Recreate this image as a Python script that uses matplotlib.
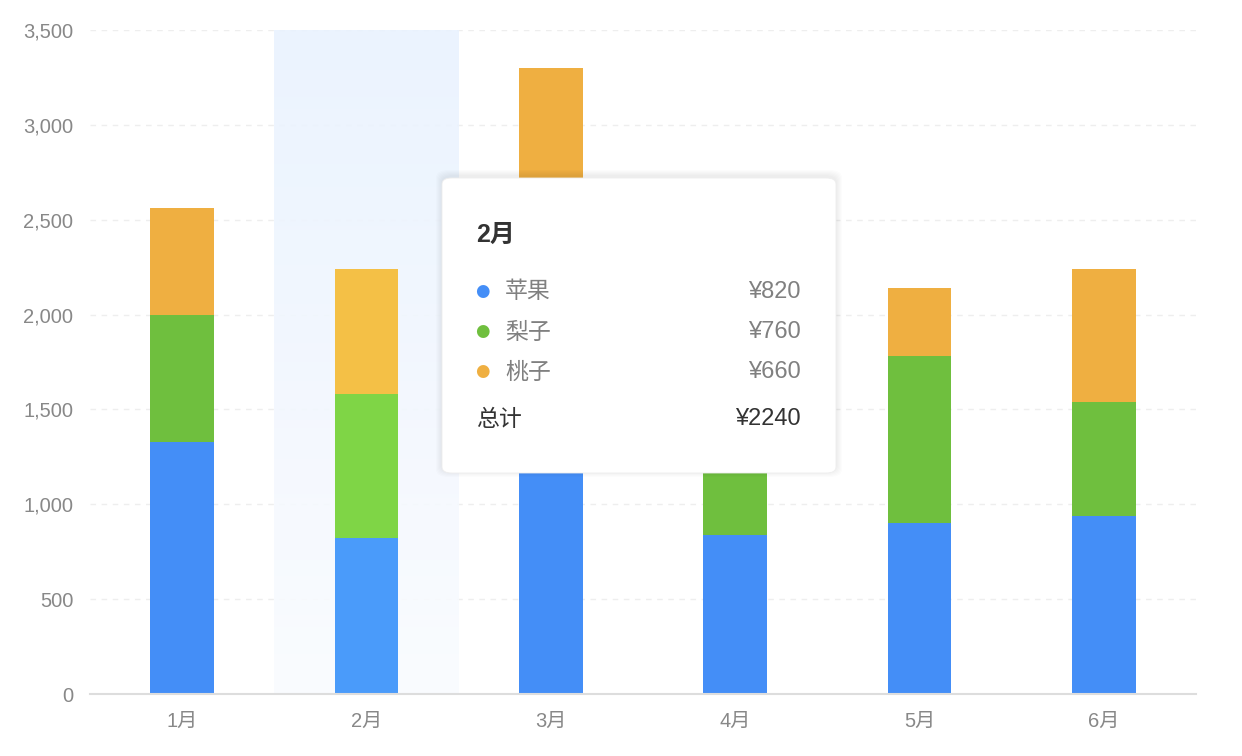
import numpy as np
import matplotlib.pyplot as plt
from matplotlib.patches import FancyBboxPatch
from matplotlib.colors import to_rgb

plt.rcParams['font.family'] = ['Liberation Sans', 'Noto Sans CJK SC', 'DejaVu Sans']

months = ['1月', '2月', '3月', '4月', '5月', '6月']
apple = [1330, 820, 1500, 840, 900, 940]
pear = [670, 760, 1000, 760, 880, 600]
peach = [560, 660, 800, 500, 360, 700]
series_names = ['苹果', '梨子', '桃子']
yticks = [0, 500, 1000, 1500, 2000, 2500, 3000, 3500]

active = 1  # 2月 is hovered
base_colors = ['#448EF7', '#6FBF3E', '#EFAF41']
hover_colors = ['#4A9BFA', '#7FD546', '#F4C046']

fig = plt.figure(figsize=(12.42, 7.56), dpi=100)
ax = fig.add_axes([90 / 1242, 62 / 756, 1106 / 1242, 664 / 756])

x = np.arange(len(months))

# hover band with a soft gradient
top = np.array(to_rgb('#E9F2FE'))
bot = np.array(to_rgb('#FAFCFF'))
t = np.linspace(0, 1, 256)[:, None]
grad = top * (1 - t) + bot * t
grad = np.repeat(grad[:, None, :], 2, axis=1)
ax.imshow(grad, extent=[active - 0.5, active + 0.5, 0, 3500], aspect='auto',
          zorder=1, alpha=0.9, origin='upper')

bottom = np.zeros(len(months))
for vals, bc, hc in zip([apple, pear, peach], base_colors, hover_colors):
    cols = [hc if i == active else bc for i in range(len(months))]
    ax.bar(x, vals, width=0.347, bottom=bottom, color=cols, zorder=2)
    bottom += np.array(vals)

ax.set_xlim(-0.5, len(months) - 0.5)
ax.set_ylim(0, 3500)
ax.set_yticks(yticks)
ax.set_yticklabels([f'{v:,}' for v in yticks])
ax.set_xticks(x)
ax.set_xticklabels(months)
ax.tick_params(axis='both', length=0, labelsize=14.5, labelcolor='#888888')
ax.tick_params(axis='x', pad=13)
ax.tick_params(axis='y', pad=12)
ax.yaxis.grid(True, color='#EEEEEE', linestyle=(0, (4, 4)), linewidth=1, zorder=0)
ax.set_axisbelow(True)
for s in ['top', 'right', 'left']:
    ax.spines[s].set_visible(False)
ax.spines['bottom'].set_color('#DDDDDD')
ax.spines['bottom'].set_linewidth(1.5)

# tooltip
W, H = 1242, 756
bx, by, bw, bh = 442, 178, 394, 295
for k in range(6, 0, -1):
    sh = FancyBboxPatch(((bx - k) / W, (H - by - bh - k + 2) / H), (bw + 2 * k) / W, (bh + 2 * k) / H,
                        boxstyle='round,pad=0,rounding_size=0.01', transform=fig.transFigure,
                        facecolor='#000000', alpha=0.012, edgecolor='none', zorder=9)
    fig.patches.append(sh)
box = FancyBboxPatch((bx / W, (H - by - bh) / H), bw / W, bh / H,
                     boxstyle='round,pad=0,rounding_size=0.008', transform=fig.transFigure,
                     facecolor='white', edgecolor='#EEEEEE', linewidth=0.6, zorder=10)
fig.patches.append(box)

def fy(py):
    return (H - py) / H

fig.text(476 / W, fy(235), months[active], fontsize=18, fontweight='bold', color='#333333',
         va='center', ha='left', zorder=11)
vals_active = [apple[active], pear[active], peach[active]]
for i, (name, v, c) in enumerate(zip(series_names, vals_active, base_colors)):
    yy = 292 + i * 40
    fig.text(482 / W, fy(yy - 1), '●', fontsize=12, color=c, ha='center', va='center', zorder=11,
             family='DejaVu Sans')
    fig.text(505 / W, fy(yy), name, fontsize=16.5, color='#808080', ha='left', va='center', zorder=11)
    fig.text(801 / W, fy(yy), f'¥{v}', fontsize=17, color='#808080', ha='right', va='center', zorder=11)
fig.text(476 / W, fy(419), '总计', fontsize=16.5, color='#333333', ha='left', va='center', zorder=11)
fig.text(801 / W, fy(419), f'¥{sum(vals_active)}', fontsize=17, color='#333333',
         ha='right', va='center', zorder=11)

fig.savefig('out.png', dpi=100)
